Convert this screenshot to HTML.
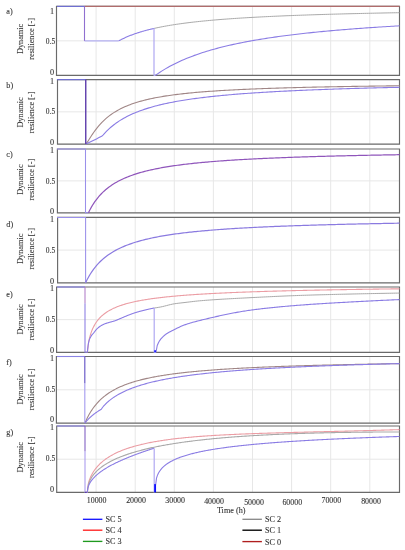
<!DOCTYPE html>
<html><head><meta charset="utf-8"><title>Dynamic resilience</title>
<style>
html,body{margin:0;padding:0;background:#fff;}
body{width:405px;height:550px;overflow:hidden;}
svg{display:block;}
text{font-family:"Liberation Serif","DejaVu Serif",serif;fill:#333;stroke:#333;stroke-width:0.1px;}
</style></head><body>
<svg width="405" height="550" viewBox="0 0 405 550">
<rect width="405" height="550" fill="#fff"/>
<line x1="96.10" y1="6.40" x2="96.10" y2="75.30" stroke="#e7e7e7" stroke-width="1"/>
<line x1="135.20" y1="6.40" x2="135.20" y2="75.30" stroke="#e7e7e7" stroke-width="1"/>
<line x1="174.29" y1="6.40" x2="174.29" y2="75.30" stroke="#e7e7e7" stroke-width="1"/>
<line x1="213.39" y1="6.40" x2="213.39" y2="75.30" stroke="#e7e7e7" stroke-width="1"/>
<line x1="252.49" y1="6.40" x2="252.49" y2="75.30" stroke="#e7e7e7" stroke-width="1"/>
<line x1="291.59" y1="6.40" x2="291.59" y2="75.30" stroke="#e7e7e7" stroke-width="1"/>
<line x1="330.69" y1="6.40" x2="330.69" y2="75.30" stroke="#e7e7e7" stroke-width="1"/>
<line x1="369.79" y1="6.40" x2="369.79" y2="75.30" stroke="#e7e7e7" stroke-width="1"/>
<line x1="56.50" y1="40.85" x2="399.50" y2="40.85" stroke="#e7e7e7" stroke-width="1"/>
<path d="M56.50 6.40 L399.50 6.40 L399.50 75.30 L56.50 75.30 Z" fill="none" stroke="#6a6a6a" stroke-width="1.15"/>
<path d="M84.50 6.40 L399.50 6.40" fill="none" stroke="#b06c6c" stroke-width="1.20" stroke-linejoin="round"/>
<path d="M154.00 28.44 L156.06 27.98 L158.13 27.55 L160.19 27.13 L162.25 26.72 L164.32 26.34 L166.38 25.96 L168.44 25.60 L170.50 25.26 L172.57 24.92 L174.63 24.60 L176.69 24.29 L178.76 23.99 L180.82 23.70 L182.88 23.41 L184.95 23.14 L187.01 22.88 L189.07 22.62 L191.13 22.37 L193.20 22.13 L195.26 21.90 L197.32 21.67 L199.39 21.45 L201.45 21.24 L203.51 21.03 L205.58 20.83 L207.64 20.63 L209.70 20.44 L211.76 20.25 L213.83 20.07 L215.89 19.90 L217.95 19.72 L220.02 19.56 L222.08 19.39 L224.14 19.23 L226.21 19.08 L228.27 18.93 L230.33 18.78 L232.39 18.63 L234.46 18.49 L236.52 18.35 L238.58 18.22 L240.65 18.09 L242.71 17.96 L244.77 17.83 L246.84 17.71 L248.90 17.58 L250.96 17.47 L253.03 17.35 L255.09 17.24 L257.15 17.13 L259.21 17.02 L261.28 16.91 L263.34 16.80 L265.40 16.70 L267.47 16.60 L269.53 16.50 L271.59 16.41 L273.66 16.31 L275.72 16.22 L277.78 16.13 L279.84 16.04 L281.91 15.95 L283.97 15.86 L286.03 15.78 L288.10 15.69 L290.16 15.61 L292.22 15.53 L294.29 15.45 L296.35 15.37 L298.41 15.30 L300.47 15.22 L302.54 15.15 L304.60 15.08 L306.66 15.01 L308.73 14.93 L310.79 14.87 L312.85 14.80 L314.92 14.73 L316.98 14.66 L319.04 14.60 L321.11 14.54 L323.17 14.47 L325.23 14.41 L327.29 14.35 L329.36 14.29 L331.42 14.23 L333.48 14.17 L335.55 14.12 L337.61 14.06 L339.67 14.00 L341.74 13.95 L343.80 13.89 L345.86 13.84 L347.92 13.79 L349.99 13.74 L352.05 13.68 L354.11 13.63 L356.18 13.58 L358.24 13.54 L360.30 13.49 L362.37 13.44 L364.43 13.39 L366.49 13.35 L368.55 13.30 L370.62 13.25 L372.68 13.21 L374.74 13.17 L376.81 13.12 L378.87 13.08 L380.93 13.04 L383.00 12.99 L385.06 12.95 L387.12 12.91 L389.18 12.87 L391.25 12.83 L393.31 12.79 L395.37 12.75 L397.44 12.72 L399.50 12.68" fill="none" stroke="#a9a9a9" stroke-width="1.00" stroke-linejoin="round"/>
<path d="M57.00 6.40 L84.50 6.40" fill="none" stroke="#6f6fd0" stroke-width="1.20" stroke-linejoin="round"/>
<path d="M84.50 40.85 L118.70 40.85" fill="none" stroke="#b4b0f2" stroke-width="1.20" stroke-linejoin="round"/>
<path d="M84.50 6.40 L84.50 40.85" fill="none" stroke="#9070d0" stroke-width="1.10" stroke-linejoin="round"/>
<path d="M118.70 40.85 L119.30 40.56 L119.90 40.24 L120.49 39.93 L121.09 39.62 L121.69 39.32 L122.29 39.02 L122.89 38.72 L123.49 38.44 L124.08 38.15 L124.68 37.88 L125.28 37.60 L125.88 37.34 L126.48 37.07 L127.08 36.81 L127.67 36.56 L128.27 36.31 L128.87 36.06 L129.47 35.82 L130.07 35.58 L130.67 35.35 L131.26 35.12 L131.86 34.89 L132.46 34.67 L133.06 34.45 L133.66 34.23 L134.26 34.02 L134.85 33.81 L135.45 33.60 L136.05 33.40 L136.65 33.19 L137.25 33.00 L137.85 32.80 L138.44 32.61 L139.04 32.42 L139.64 32.23 L140.24 32.05 L140.84 31.87 L141.44 31.69 L142.03 31.51 L142.63 31.34 L143.23 31.17 L143.83 31.00 L144.43 30.83 L145.03 30.67 L145.62 30.50 L146.22 30.34 L146.82 30.19 L147.42 30.03 L148.02 29.88 L148.62 29.72 L149.21 29.57 L149.81 29.43 L150.41 29.28 L151.01 29.14 L151.61 28.99 L152.21 28.85 L152.80 28.71 L153.40 28.58 L154.00 28.44" fill="none" stroke="#8a7ce4" stroke-width="1.10" stroke-linejoin="round"/>
<path d="M154.00 28.31 L154.00 75.30 L155.50 75.30" fill="none" stroke="#b0a8f2" stroke-width="1.20" stroke-linejoin="round"/>
<path d="M155.50 75.30 L157.55 73.86 L159.60 72.47 L161.65 71.14 L163.70 69.87 L165.75 68.64 L167.80 67.46 L169.85 66.32 L171.90 65.23 L173.95 64.17 L176.00 63.15 L178.05 62.17 L180.11 61.22 L182.16 60.30 L184.21 59.41 L186.26 58.55 L188.31 57.72 L190.36 56.92 L192.41 56.14 L194.46 55.38 L196.51 54.65 L198.56 53.93 L200.61 53.24 L202.66 52.57 L204.71 51.92 L206.76 51.28 L208.81 50.66 L210.86 50.06 L212.91 49.48 L214.96 48.91 L217.01 48.36 L219.06 47.82 L221.11 47.29 L223.16 46.78 L225.21 46.28 L227.26 45.79 L229.32 45.31 L231.37 44.85 L233.42 44.39 L235.47 43.95 L237.52 43.52 L239.57 43.10 L241.62 42.68 L243.67 42.28 L245.72 41.88 L247.77 41.50 L249.82 41.12 L251.87 40.75 L253.92 40.38 L255.97 40.03 L258.02 39.68 L260.07 39.34 L262.12 39.01 L264.17 38.68 L266.22 38.36 L268.27 38.04 L270.32 37.74 L272.37 37.43 L274.42 37.14 L276.47 36.85 L278.53 36.56 L280.58 36.28 L282.63 36.01 L284.68 35.74 L286.73 35.47 L288.78 35.21 L290.83 34.96 L292.88 34.71 L294.93 34.46 L296.98 34.22 L299.03 33.98 L301.08 33.74 L303.13 33.51 L305.18 33.29 L307.23 33.06 L309.28 32.85 L311.33 32.63 L313.38 32.42 L315.43 32.21 L317.48 32.00 L319.53 31.80 L321.58 31.60 L323.63 31.41 L325.68 31.21 L327.74 31.02 L329.79 30.84 L331.84 30.65 L333.89 30.47 L335.94 30.29 L337.99 30.12 L340.04 29.94 L342.09 29.77 L344.14 29.60 L346.19 29.44 L348.24 29.27 L350.29 29.11 L352.34 28.95 L354.39 28.80 L356.44 28.64 L358.49 28.49 L360.54 28.34 L362.59 28.19 L364.64 28.04 L366.69 27.90 L368.74 27.76 L370.79 27.62 L372.84 27.48 L374.89 27.34 L376.95 27.20 L379.00 27.07 L381.05 26.94 L383.10 26.81 L385.15 26.68 L387.20 26.55 L389.25 26.43 L391.30 26.30 L393.35 26.18 L395.40 26.06 L397.45 25.94 L399.50 25.82" fill="none" stroke="#8a7ce4" stroke-width="1.10" stroke-linejoin="round"/>
<text x="52.05" y="13.55" text-anchor="middle" font-size="8.2">1</text>
<text x="52.1" y="74.80" text-anchor="middle" font-size="8.2">0</text>
<text x="55.25" y="44.20" text-anchor="end" font-size="8.2" textLength="9.4" lengthAdjust="spacingAndGlyphs">0.5</text>
<text x="6.3" y="14.30" font-size="8.2">a)</text>
<text transform="translate(22.6 38.90) rotate(-90)" text-anchor="middle" font-size="8.6" textLength="30.4" lengthAdjust="spacingAndGlyphs">Dynamic</text>
<text transform="translate(34.1 38.90) rotate(-90)" text-anchor="middle" font-size="8.6" textLength="41.6" lengthAdjust="spacingAndGlyphs">resilience [-]</text>
<line x1="96.10" y1="79.60" x2="96.10" y2="144.10" stroke="#e7e7e7" stroke-width="1"/>
<line x1="135.20" y1="79.60" x2="135.20" y2="144.10" stroke="#e7e7e7" stroke-width="1"/>
<line x1="174.29" y1="79.60" x2="174.29" y2="144.10" stroke="#e7e7e7" stroke-width="1"/>
<line x1="213.39" y1="79.60" x2="213.39" y2="144.10" stroke="#e7e7e7" stroke-width="1"/>
<line x1="252.49" y1="79.60" x2="252.49" y2="144.10" stroke="#e7e7e7" stroke-width="1"/>
<line x1="291.59" y1="79.60" x2="291.59" y2="144.10" stroke="#e7e7e7" stroke-width="1"/>
<line x1="330.69" y1="79.60" x2="330.69" y2="144.10" stroke="#e7e7e7" stroke-width="1"/>
<line x1="369.79" y1="79.60" x2="369.79" y2="144.10" stroke="#e7e7e7" stroke-width="1"/>
<line x1="57.50" y1="111.85" x2="399.50" y2="111.85" stroke="#e7e7e7" stroke-width="1"/>
<path d="M57.50 79.60 L399.50 79.60 L399.50 144.10 L57.50 144.10 Z" fill="none" stroke="#6a6a6a" stroke-width="1.15"/>
<path d="M57.00 79.60 L85.75 79.60" fill="none" stroke="#6f6fd0" stroke-width="1.20" stroke-linejoin="round"/>
<path d="M85.90 144.10 L87.48 141.94 L89.05 139.46 L90.63 136.97 L92.20 134.57 L93.78 132.27 L95.36 130.10 L96.93 128.06 L98.51 126.14 L100.08 124.34 L101.66 122.65 L103.23 121.07 L104.81 119.59 L106.39 118.20 L107.96 116.89 L109.54 115.66 L111.11 114.50 L112.69 113.41 L114.27 112.38 L115.84 111.41 L117.42 110.49 L118.99 109.62 L120.57 108.80 L122.15 108.02 L123.72 107.28 L125.30 106.57 L126.87 105.90 L128.45 105.27 L130.02 104.66 L131.60 104.08 L133.18 103.53 L134.75 103.00 L136.33 102.49 L137.90 102.01 L139.48 101.55 L141.06 101.10 L142.63 100.68 L144.21 100.27 L145.78 99.88 L147.36 99.50 L148.94 99.14 L150.51 98.79 L152.09 98.45 L153.66 98.13 L155.24 97.82 L156.81 97.52 L158.39 97.23 L159.97 96.95 L161.54 96.67 L163.12 96.41 L164.69 96.16 L166.27 95.91 L167.85 95.68 L169.42 95.45 L171.00 95.22 L172.57 95.01 L174.15 94.80 L175.73 94.60 L177.30 94.40 L178.88 94.21 L180.45 94.02 L182.03 93.84 L183.60 93.67 L185.18 93.50 L186.76 93.33 L188.33 93.17 L189.91 93.01 L191.48 92.86 L193.06 92.71 L194.64 92.56 L196.21 92.42 L197.79 92.28 L199.36 92.15 L200.94 92.02 L202.52 91.89 L204.09 91.77 L205.67 91.64 L207.24 91.53 L208.82 91.41 L210.39 91.30 L211.97 91.18 L213.55 91.08 L215.12 90.97 L216.70 90.87 L218.27 90.77 L219.85 90.67 L221.43 90.57 L223.00 90.47 L224.58 90.38 L226.15 90.29 L227.73 90.20 L229.31 90.11 L230.88 90.03 L232.46 89.95 L234.03 89.86 L235.61 89.78 L237.18 89.70 L238.76 89.63 L240.34 89.55 L241.91 89.48 L243.49 89.40 L245.06 89.33 L246.64 89.26 L248.22 89.19 L249.79 89.13 L251.37 89.06 L252.94 89.00 L254.52 88.93 L256.09 88.87 L257.67 88.81 L259.25 88.75 L260.82 88.69 L262.40 88.63 L263.97 88.57 L265.55 88.51 L267.13 88.46 L268.70 88.40 L270.28 88.35 L271.85 88.30 L273.43 88.24 L275.01 88.19 L276.58 88.14 L278.16 88.09 L279.73 88.04 L281.31 88.00 L282.88 87.95 L284.46 87.90 L286.04 87.86 L287.61 87.81 L289.19 87.77 L290.76 87.72 L292.34 87.68 L293.92 87.64 L295.49 87.60 L297.07 87.55 L298.64 87.51 L300.22 87.47 L301.80 87.43 L303.37 87.40 L304.95 87.36 L306.52 87.32 L308.10 87.28 L309.67 87.25 L311.25 87.21 L312.83 87.17 L314.40 87.14 L315.98 87.10 L317.55 87.07 L319.13 87.04 L320.71 87.00 L322.28 86.97 L323.86 86.94 L325.43 86.91 L327.01 86.87 L328.59 86.84 L330.16 86.81 L331.74 86.78 L333.31 86.75 L334.89 86.72 L336.46 86.69 L338.04 86.66 L339.62 86.63 L341.19 86.61 L342.77 86.58 L344.34 86.55 L345.92 86.52 L347.50 86.50 L349.07 86.47 L350.65 86.44 L352.22 86.42 L353.80 86.39 L355.38 86.37 L356.95 86.34 L358.53 86.32 L360.10 86.29 L361.68 86.27 L363.25 86.25 L364.83 86.22 L366.41 86.20 L367.98 86.18 L369.56 86.15 L371.13 86.13 L372.71 86.11 L374.29 86.09 L375.86 86.06 L377.44 86.04 L379.01 86.02 L380.59 86.00 L382.17 85.98 L383.74 85.96 L385.32 85.94 L386.89 85.92 L388.47 85.90 L390.04 85.88 L391.62 85.86 L393.20 85.84 L394.77 85.82 L396.35 85.80 L397.92 85.78 L399.50 85.76" fill="none" stroke="#a08686" stroke-width="1.10" stroke-linejoin="round"/>
<path d="M85.90 144.10 L87.48 143.32 L89.05 142.54 L90.63 141.76 L92.20 140.98 L93.78 140.20 L95.36 139.42 L96.93 138.64 L98.51 137.86 L100.08 137.08 L101.66 136.31 L103.23 134.82 L104.81 133.06 L106.39 131.41 L107.96 129.86 L109.54 128.40 L111.11 127.03 L112.69 125.72 L114.27 124.49 L115.84 123.32 L117.42 122.22 L118.99 121.16 L120.57 120.16 L122.15 119.20 L123.72 118.29 L125.30 117.42 L126.87 116.59 L128.45 115.79 L130.02 115.03 L131.60 114.30 L133.18 113.59 L134.75 112.92 L136.33 112.27 L137.90 111.65 L139.48 111.05 L141.06 110.47 L142.63 109.91 L144.21 109.38 L145.78 108.86 L147.36 108.36 L148.94 107.87 L150.51 107.41 L152.09 106.95 L153.66 106.52 L155.24 106.09 L156.81 105.68 L158.39 105.28 L159.97 104.89 L161.54 104.52 L163.12 104.16 L164.69 103.80 L166.27 103.46 L167.85 103.12 L169.42 102.80 L171.00 102.48 L172.57 102.18 L174.15 101.88 L175.73 101.58 L177.30 101.30 L178.88 101.02 L180.45 100.75 L182.03 100.49 L183.60 100.23 L185.18 99.98 L186.76 99.74 L188.33 99.50 L189.91 99.27 L191.48 99.04 L193.06 98.82 L194.64 98.60 L196.21 98.39 L197.79 98.18 L199.36 97.98 L200.94 97.78 L202.52 97.58 L204.09 97.39 L205.67 97.21 L207.24 97.03 L208.82 96.85 L210.39 96.67 L211.97 96.50 L213.55 96.33 L215.12 96.17 L216.70 96.00 L218.27 95.85 L219.85 95.69 L221.43 95.54 L223.00 95.39 L224.58 95.24 L226.15 95.10 L227.73 94.96 L229.31 94.82 L230.88 94.68 L232.46 94.55 L234.03 94.41 L235.61 94.28 L237.18 94.16 L238.76 94.03 L240.34 93.91 L241.91 93.79 L243.49 93.67 L245.06 93.55 L246.64 93.44 L248.22 93.32 L249.79 93.21 L251.37 93.10 L252.94 93.00 L254.52 92.89 L256.09 92.79 L257.67 92.68 L259.25 92.58 L260.82 92.48 L262.40 92.38 L263.97 92.29 L265.55 92.19 L267.13 92.10 L268.70 92.01 L270.28 91.92 L271.85 91.83 L273.43 91.74 L275.01 91.65 L276.58 91.57 L278.16 91.48 L279.73 91.40 L281.31 91.32 L282.88 91.23 L284.46 91.15 L286.04 91.08 L287.61 91.00 L289.19 90.92 L290.76 90.84 L292.34 90.77 L293.92 90.70 L295.49 90.62 L297.07 90.55 L298.64 90.48 L300.22 90.41 L301.80 90.34 L303.37 90.27 L304.95 90.21 L306.52 90.14 L308.10 90.07 L309.67 90.01 L311.25 89.94 L312.83 89.88 L314.40 89.82 L315.98 89.76 L317.55 89.70 L319.13 89.64 L320.71 89.58 L322.28 89.52 L323.86 89.46 L325.43 89.40 L327.01 89.34 L328.59 89.29 L330.16 89.23 L331.74 89.18 L333.31 89.12 L334.89 89.07 L336.46 89.02 L338.04 88.96 L339.62 88.91 L341.19 88.86 L342.77 88.81 L344.34 88.76 L345.92 88.71 L347.50 88.66 L349.07 88.61 L350.65 88.56 L352.22 88.52 L353.80 88.47 L355.38 88.42 L356.95 88.38 L358.53 88.33 L360.10 88.29 L361.68 88.24 L363.25 88.20 L364.83 88.15 L366.41 88.11 L367.98 88.07 L369.56 88.03 L371.13 87.98 L372.71 87.94 L374.29 87.90 L375.86 87.86 L377.44 87.82 L379.01 87.78 L380.59 87.74 L382.17 87.70 L383.74 87.66 L385.32 87.62 L386.89 87.59 L388.47 87.55 L390.04 87.51 L391.62 87.47 L393.20 87.44 L394.77 87.40 L396.35 87.36 L397.92 87.33 L399.50 87.29" fill="none" stroke="#8a7ce4" stroke-width="1.10" stroke-linejoin="round"/>
<path d="M85.75 79.60 L85.75 144.10" fill="none" stroke="#5e3cac" stroke-width="1.40" stroke-linejoin="round"/>
<text x="52.05" y="83.70" text-anchor="middle" font-size="8.2">1</text>
<text x="52.1" y="145.10" text-anchor="middle" font-size="8.2">0</text>
<text x="55.25" y="114.20" text-anchor="end" font-size="8.2" textLength="9.4" lengthAdjust="spacingAndGlyphs">0.5</text>
<text x="6.3" y="88.30" font-size="8.2">b)</text>
<text transform="translate(22.6 112.40) rotate(-90)" text-anchor="middle" font-size="8.6" textLength="30.4" lengthAdjust="spacingAndGlyphs">Dynamic</text>
<text transform="translate(34.1 112.40) rotate(-90)" text-anchor="middle" font-size="8.6" textLength="41.6" lengthAdjust="spacingAndGlyphs">resilience [-]</text>
<line x1="96.10" y1="149.00" x2="96.10" y2="212.80" stroke="#e7e7e7" stroke-width="1"/>
<line x1="135.20" y1="149.00" x2="135.20" y2="212.80" stroke="#e7e7e7" stroke-width="1"/>
<line x1="174.29" y1="149.00" x2="174.29" y2="212.80" stroke="#e7e7e7" stroke-width="1"/>
<line x1="213.39" y1="149.00" x2="213.39" y2="212.80" stroke="#e7e7e7" stroke-width="1"/>
<line x1="252.49" y1="149.00" x2="252.49" y2="212.80" stroke="#e7e7e7" stroke-width="1"/>
<line x1="291.59" y1="149.00" x2="291.59" y2="212.80" stroke="#e7e7e7" stroke-width="1"/>
<line x1="330.69" y1="149.00" x2="330.69" y2="212.80" stroke="#e7e7e7" stroke-width="1"/>
<line x1="369.79" y1="149.00" x2="369.79" y2="212.80" stroke="#e7e7e7" stroke-width="1"/>
<line x1="57.40" y1="180.90" x2="399.50" y2="180.90" stroke="#e7e7e7" stroke-width="1"/>
<path d="M57.40 149.00 L399.50 149.00 L399.50 212.80 L57.40 212.80 Z" fill="none" stroke="#6a6a6a" stroke-width="1.15"/>
<path d="M57.00 149.00 L85.50 149.00 L85.50 212.80 L88.40 212.80" fill="none" stroke="#9a90ea" stroke-width="1.05" stroke-linejoin="round"/>
<path d="M88.40 212.80 L89.96 209.69 L91.53 206.87 L93.09 204.30 L94.65 201.94 L96.22 199.78 L97.78 197.79 L99.34 195.95 L100.91 194.25 L102.47 192.66 L104.03 191.18 L105.60 189.80 L107.16 188.50 L108.72 187.29 L110.29 186.14 L111.85 185.07 L113.41 184.05 L114.98 183.09 L116.54 182.18 L118.10 181.32 L119.67 180.50 L121.23 179.72 L122.79 178.98 L124.36 178.28 L125.92 177.61 L127.48 176.96 L129.05 176.35 L130.61 175.76 L132.17 175.20 L133.74 174.66 L135.30 174.14 L136.86 173.64 L138.43 173.16 L139.99 172.70 L141.55 172.26 L143.12 171.83 L144.68 171.42 L146.24 171.03 L147.81 170.64 L149.37 170.27 L150.93 169.91 L152.50 169.57 L154.06 169.23 L155.62 168.91 L157.19 168.60 L158.75 168.29 L160.31 168.00 L161.88 167.71 L163.44 167.44 L165.00 167.17 L166.57 166.91 L168.13 166.65 L169.69 166.40 L171.26 166.16 L172.82 165.93 L174.38 165.70 L175.95 165.48 L177.51 165.27 L179.07 165.06 L180.64 164.85 L182.20 164.65 L183.76 164.46 L185.33 164.27 L186.89 164.08 L188.45 163.90 L190.02 163.73 L191.58 163.56 L193.14 163.39 L194.71 163.22 L196.27 163.06 L197.83 162.90 L199.40 162.75 L200.96 162.60 L202.52 162.45 L204.09 162.31 L205.65 162.17 L207.21 162.03 L208.78 161.90 L210.34 161.76 L211.90 161.63 L213.47 161.51 L215.03 161.38 L216.59 161.26 L218.16 161.14 L219.72 161.02 L221.28 160.91 L222.85 160.80 L224.41 160.69 L225.97 160.58 L227.54 160.47 L229.10 160.37 L230.66 160.26 L232.23 160.16 L233.79 160.06 L235.35 159.96 L236.92 159.87 L238.48 159.77 L240.04 159.68 L241.61 159.59 L243.17 159.50 L244.73 159.41 L246.29 159.33 L247.86 159.24 L249.42 159.16 L250.98 159.08 L252.55 159.00 L254.11 158.92 L255.67 158.84 L257.24 158.76 L258.80 158.68 L260.36 158.61 L261.93 158.54 L263.49 158.46 L265.05 158.39 L266.62 158.32 L268.18 158.25 L269.74 158.18 L271.31 158.12 L272.87 158.05 L274.43 157.99 L276.00 157.92 L277.56 157.86 L279.12 157.80 L280.69 157.73 L282.25 157.67 L283.81 157.61 L285.38 157.55 L286.94 157.50 L288.50 157.44 L290.07 157.38 L291.63 157.32 L293.19 157.27 L294.76 157.21 L296.32 157.16 L297.88 157.11 L299.45 157.06 L301.01 157.00 L302.57 156.95 L304.14 156.90 L305.70 156.85 L307.26 156.80 L308.83 156.75 L310.39 156.71 L311.95 156.66 L313.52 156.61 L315.08 156.57 L316.64 156.52 L318.21 156.47 L319.77 156.43 L321.33 156.39 L322.90 156.34 L324.46 156.30 L326.02 156.26 L327.59 156.21 L329.15 156.17 L330.71 156.13 L332.28 156.09 L333.84 156.05 L335.40 156.01 L336.97 155.97 L338.53 155.93 L340.09 155.89 L341.66 155.86 L343.22 155.82 L344.78 155.78 L346.35 155.75 L347.91 155.71 L349.47 155.67 L351.04 155.64 L352.60 155.60 L354.16 155.57 L355.73 155.53 L357.29 155.50 L358.85 155.47 L360.42 155.43 L361.98 155.40 L363.54 155.37 L365.11 155.33 L366.67 155.30 L368.23 155.27 L369.80 155.24 L371.36 155.21 L372.92 155.18 L374.49 155.15 L376.05 155.12 L377.61 155.09 L379.18 155.06 L380.74 155.03 L382.30 155.00 L383.87 154.97 L385.43 154.94 L386.99 154.91 L388.56 154.88 L390.12 154.86 L391.68 154.83 L393.25 154.80 L394.81 154.78 L396.37 154.75 L397.94 154.72 L399.50 154.70" fill="none" stroke="#8f55bb" stroke-width="1.20" stroke-linejoin="round"/>
<text x="52.05" y="152.70" text-anchor="middle" font-size="8.2">1</text>
<text x="52.1" y="214.20" text-anchor="middle" font-size="8.2">0</text>
<text x="55.25" y="183.50" text-anchor="end" font-size="8.2" textLength="9.4" lengthAdjust="spacingAndGlyphs">0.5</text>
<text x="6.3" y="157.10" font-size="8.2">c)</text>
<text transform="translate(22.6 179.60) rotate(-90)" text-anchor="middle" font-size="8.6" textLength="30.4" lengthAdjust="spacingAndGlyphs">Dynamic</text>
<text transform="translate(34.1 179.60) rotate(-90)" text-anchor="middle" font-size="8.6" textLength="41.6" lengthAdjust="spacingAndGlyphs">resilience [-]</text>
<line x1="96.10" y1="217.40" x2="96.10" y2="282.80" stroke="#e7e7e7" stroke-width="1"/>
<line x1="135.20" y1="217.40" x2="135.20" y2="282.80" stroke="#e7e7e7" stroke-width="1"/>
<line x1="174.29" y1="217.40" x2="174.29" y2="282.80" stroke="#e7e7e7" stroke-width="1"/>
<line x1="213.39" y1="217.40" x2="213.39" y2="282.80" stroke="#e7e7e7" stroke-width="1"/>
<line x1="252.49" y1="217.40" x2="252.49" y2="282.80" stroke="#e7e7e7" stroke-width="1"/>
<line x1="291.59" y1="217.40" x2="291.59" y2="282.80" stroke="#e7e7e7" stroke-width="1"/>
<line x1="330.69" y1="217.40" x2="330.69" y2="282.80" stroke="#e7e7e7" stroke-width="1"/>
<line x1="369.79" y1="217.40" x2="369.79" y2="282.80" stroke="#e7e7e7" stroke-width="1"/>
<line x1="57.60" y1="250.10" x2="399.50" y2="250.10" stroke="#e7e7e7" stroke-width="1"/>
<path d="M57.60 217.40 L399.50 217.40 L399.50 282.80 L57.60 282.80 Z" fill="none" stroke="#6a6a6a" stroke-width="1.15"/>
<path d="M57.00 217.40 L85.60 217.40 L85.60 282.80" fill="none" stroke="#9a90ea" stroke-width="1.05" stroke-linejoin="round"/>
<path d="M85.60 282.80 L87.18 279.58 L88.75 276.67 L90.33 274.02 L91.91 271.59 L93.49 269.36 L95.06 267.31 L96.64 265.42 L98.22 263.66 L99.80 262.03 L101.37 260.50 L102.95 259.08 L104.53 257.75 L106.11 256.51 L107.68 255.33 L109.26 254.23 L110.84 253.19 L112.42 252.20 L113.99 251.27 L115.57 250.38 L117.15 249.55 L118.73 248.75 L120.30 247.99 L121.88 247.27 L123.46 246.58 L125.03 245.92 L126.61 245.29 L128.19 244.69 L129.77 244.11 L131.34 243.56 L132.92 243.03 L134.50 242.52 L136.08 242.03 L137.65 241.56 L139.23 241.11 L140.81 240.67 L142.39 240.25 L143.96 239.85 L145.54 239.45 L147.12 239.08 L148.70 238.71 L150.27 238.36 L151.85 238.02 L153.43 237.68 L155.01 237.36 L156.58 237.05 L158.16 236.75 L159.74 236.46 L161.31 236.18 L162.89 235.90 L164.47 235.64 L166.05 235.38 L167.62 235.13 L169.20 234.88 L170.78 234.64 L172.36 234.41 L173.93 234.18 L175.51 233.96 L177.09 233.75 L178.67 233.54 L180.24 233.34 L181.82 233.14 L183.40 232.95 L184.98 232.76 L186.55 232.57 L188.13 232.39 L189.71 232.22 L191.28 232.05 L192.86 231.88 L194.44 231.71 L196.02 231.55 L197.59 231.40 L199.17 231.24 L200.75 231.09 L202.33 230.95 L203.90 230.80 L205.48 230.66 L207.06 230.53 L208.64 230.39 L210.21 230.26 L211.79 230.13 L213.37 230.00 L214.95 229.88 L216.52 229.76 L218.10 229.64 L219.68 229.52 L221.26 229.40 L222.83 229.29 L224.41 229.18 L225.99 229.07 L227.56 228.96 L229.14 228.86 L230.72 228.76 L232.30 228.66 L233.87 228.56 L235.45 228.46 L237.03 228.36 L238.61 228.27 L240.18 228.18 L241.76 228.09 L243.34 228.00 L244.92 227.91 L246.49 227.82 L248.07 227.74 L249.65 227.65 L251.23 227.57 L252.80 227.49 L254.38 227.41 L255.96 227.33 L257.54 227.25 L259.11 227.18 L260.69 227.10 L262.27 227.03 L263.84 226.95 L265.42 226.88 L267.00 226.81 L268.58 226.74 L270.15 226.67 L271.73 226.61 L273.31 226.54 L274.89 226.47 L276.46 226.41 L278.04 226.35 L279.62 226.28 L281.20 226.22 L282.77 226.16 L284.35 226.10 L285.93 226.04 L287.51 225.98 L289.08 225.92 L290.66 225.87 L292.24 225.81 L293.82 225.76 L295.39 225.70 L296.97 225.65 L298.55 225.59 L300.12 225.54 L301.70 225.49 L303.28 225.44 L304.86 225.39 L306.43 225.34 L308.01 225.29 L309.59 225.24 L311.17 225.19 L312.74 225.14 L314.32 225.09 L315.90 225.05 L317.48 225.00 L319.05 224.96 L320.63 224.91 L322.21 224.87 L323.79 224.82 L325.36 224.78 L326.94 224.74 L328.52 224.69 L330.09 224.65 L331.67 224.61 L333.25 224.57 L334.83 224.53 L336.40 224.49 L337.98 224.45 L339.56 224.41 L341.14 224.37 L342.71 224.33 L344.29 224.30 L345.87 224.26 L347.45 224.22 L349.02 224.19 L350.60 224.15 L352.18 224.11 L353.76 224.08 L355.33 224.04 L356.91 224.01 L358.49 223.97 L360.07 223.94 L361.64 223.91 L363.22 223.87 L364.80 223.84 L366.37 223.81 L367.95 223.78 L369.53 223.74 L371.11 223.71 L372.68 223.68 L374.26 223.65 L375.84 223.62 L377.42 223.59 L378.99 223.56 L380.57 223.53 L382.15 223.50 L383.73 223.47 L385.30 223.44 L386.88 223.41 L388.46 223.38 L390.04 223.35 L391.61 223.33 L393.19 223.30 L394.77 223.27 L396.35 223.24 L397.92 223.22 L399.50 223.19" fill="none" stroke="#8a7ae0" stroke-width="1.20" stroke-linejoin="round"/>
<text x="52.05" y="222.20" text-anchor="middle" font-size="8.2">1</text>
<text x="52.1" y="283.70" text-anchor="middle" font-size="8.2">0</text>
<text x="55.25" y="252.60" text-anchor="end" font-size="8.2" textLength="9.4" lengthAdjust="spacingAndGlyphs">0.5</text>
<text x="6.3" y="227.40" font-size="8.2">d)</text>
<text transform="translate(22.6 248.80) rotate(-90)" text-anchor="middle" font-size="8.6" textLength="30.4" lengthAdjust="spacingAndGlyphs">Dynamic</text>
<text transform="translate(34.1 248.80) rotate(-90)" text-anchor="middle" font-size="8.6" textLength="41.6" lengthAdjust="spacingAndGlyphs">resilience [-]</text>
<line x1="96.10" y1="287.00" x2="96.10" y2="352.30" stroke="#e7e7e7" stroke-width="1"/>
<line x1="135.20" y1="287.00" x2="135.20" y2="352.30" stroke="#e7e7e7" stroke-width="1"/>
<line x1="174.29" y1="287.00" x2="174.29" y2="352.30" stroke="#e7e7e7" stroke-width="1"/>
<line x1="213.39" y1="287.00" x2="213.39" y2="352.30" stroke="#e7e7e7" stroke-width="1"/>
<line x1="252.49" y1="287.00" x2="252.49" y2="352.30" stroke="#e7e7e7" stroke-width="1"/>
<line x1="291.59" y1="287.00" x2="291.59" y2="352.30" stroke="#e7e7e7" stroke-width="1"/>
<line x1="330.69" y1="287.00" x2="330.69" y2="352.30" stroke="#e7e7e7" stroke-width="1"/>
<line x1="369.79" y1="287.00" x2="369.79" y2="352.30" stroke="#e7e7e7" stroke-width="1"/>
<line x1="56.60" y1="319.65" x2="399.50" y2="319.65" stroke="#e7e7e7" stroke-width="1"/>
<path d="M56.60 287.00 L399.50 287.00 L399.50 352.30 L56.60 352.30 Z" fill="none" stroke="#6a6a6a" stroke-width="1.15"/>
<path d="M57.00 287.00 L85.00 287.00" fill="none" stroke="#8580e6" stroke-width="1.10" stroke-linejoin="round"/>
<path d="M85.00 303.32 L85.00 352.30 L87.40 352.30" fill="none" stroke="#8a7ce2" stroke-width="1.05" stroke-linejoin="round"/>
<path d="M85.00 287.00 L85.00 303.32" fill="none" stroke="#b07cc8" stroke-width="1.05" stroke-linejoin="round"/>
<path d="M87.40 352.30 L88.44 343.19 L89.49 338.18 L90.53 334.40 L91.58 331.36 L92.62 328.81 L93.66 326.62 L94.71 324.71 L95.75 323.01 L96.79 321.49 L97.84 320.12 L98.88 318.88 L99.93 317.74 L100.97 316.69 L102.01 315.72 L103.06 314.82 L104.10 313.99 L105.14 313.21 L106.19 312.47 L107.23 311.78 L108.28 311.13 L109.32 310.52 L110.36 309.94 L111.41 309.39 L112.45 308.87 L113.50 308.37 L114.54 307.90 L115.58 307.45 L116.63 307.02 L117.67 306.60 L118.71 306.21 L119.76 305.83 L120.80 305.46 L121.85 305.11 L122.89 304.78 L123.93 304.45 L124.98 304.14 L126.02 303.84 L127.06 303.55 L128.11 303.27 L129.15 303.00 L130.20 302.73 L131.24 302.48 L132.28 302.23 L133.33 301.99 L134.37 301.76 L135.42 301.54 L136.46 301.32 L137.50 301.11 L138.55 300.90 L139.59 300.70 L140.63 300.51 L141.68 300.32 L142.72 300.13 L143.77 299.95 L144.81 299.78 L145.85 299.61 L146.90 299.44 L147.94 299.28 L148.98 299.12 L150.03 298.96 L151.07 298.81 L152.12 298.66 L153.16 298.52 L154.20 298.38 L155.25 298.24 L156.29 298.11 L157.34 297.97 L158.38 297.84 L159.42 297.72 L160.47 297.59 L161.51 297.47 L162.55 297.35 L163.60 297.24 L164.64 297.12 L165.69 297.01 L166.73 296.90 L167.77 296.79 L168.82 296.68 L169.86 296.58 L170.91 296.48 L171.95 296.38 L172.99 296.28 L174.04 296.18 L175.08 296.09 L176.12 296.00 L177.17 295.90 L178.21 295.81 L179.26 295.73 L180.30 295.64 L181.34 295.55 L182.39 295.47 L183.43 295.39 L184.47 295.30 L185.52 295.22 L186.56 295.14 L187.61 295.07 L188.65 294.99 L189.69 294.91 L190.74 294.84 L191.78 294.77 L192.83 294.70 L193.87 294.62 L194.91 294.55 L195.96 294.49 L197.00 294.42 L198.04 294.35 L199.09 294.29 L200.13 294.22 L201.18 294.16 L202.22 294.09 L203.26 294.03 L204.31 293.97 L205.35 293.91 L206.39 293.85 L207.44 293.79 L208.48 293.73 L209.53 293.67 L210.57 293.62 L211.61 293.56 L212.66 293.51 L213.70 293.45 L214.75 293.40 L215.79 293.34 L216.83 293.29 L217.88 293.24 L218.92 293.19 L219.96 293.14 L221.01 293.09 L222.05 293.04 L223.10 292.99 L224.14 292.94 L225.18 292.89 L226.23 292.85 L227.27 292.80 L228.31 292.75 L229.36 292.71 L230.40 292.66 L231.45 292.62 L232.49 292.57 L233.53 292.53 L234.58 292.49 L235.62 292.44 L236.67 292.40 L237.71 292.36 L238.75 292.32 L239.80 292.28 L240.84 292.24 L241.88 292.20 L242.93 292.16 L243.97 292.12 L245.02 292.08 L246.06 292.04 L247.10 292.01 L248.15 291.97 L249.19 291.93 L250.23 291.89 L251.28 291.86 L252.32 291.82 L253.37 291.79 L254.41 291.75 L255.45 291.72 L256.50 291.68 L257.54 291.65 L258.59 291.61 L259.63 291.58 L260.67 291.55 L261.72 291.51 L262.76 291.48 L263.80 291.45 L264.85 291.42 L265.89 291.38 L266.94 291.35 L267.98 291.32 L269.02 291.29 L270.07 291.26 L271.11 291.23 L272.15 291.20 L273.20 291.17 L274.24 291.14 L275.29 291.11 L276.33 291.08 L277.37 291.05 L278.42 291.02 L279.46 291.00 L280.51 290.97 L281.55 290.94 L282.59 290.91 L283.64 290.88 L284.68 290.86 L285.72 290.83 L286.77 290.80 L287.81 290.78 L288.86 290.75 L289.90 290.73 L290.94 290.70 L291.99 290.67 L293.03 290.65 L294.07 290.62 L295.12 290.60 L296.16 290.57 L297.21 290.55 L298.25 290.53 L299.29 290.50 L300.34 290.48 L301.38 290.45 L302.43 290.43 L303.47 290.41 L304.51 290.38 L305.56 290.36 L306.60 290.34 L307.64 290.31 L308.69 290.29 L309.73 290.27 L310.78 290.25 L311.82 290.23 L312.86 290.20 L313.91 290.18 L314.95 290.16 L315.99 290.14 L317.04 290.12 L318.08 290.10 L319.13 290.08 L320.17 290.05 L321.21 290.03 L322.26 290.01 L323.30 289.99 L324.35 289.97 L325.39 289.95 L326.43 289.93 L327.48 289.91 L328.52 289.89 L329.56 289.87 L330.61 289.85 L331.65 289.84 L332.70 289.82 L333.74 289.80 L334.78 289.78 L335.83 289.76 L336.87 289.74 L337.92 289.72 L338.96 289.70 L340.00 289.69 L341.05 289.67 L342.09 289.65 L343.13 289.63 L344.18 289.61 L345.22 289.60 L346.27 289.58 L347.31 289.56 L348.35 289.54 L349.40 289.53 L350.44 289.51 L351.48 289.49 L352.53 289.48 L353.57 289.46 L354.62 289.44 L355.66 289.43 L356.70 289.41 L357.75 289.39 L358.79 289.38 L359.84 289.36 L360.88 289.35 L361.92 289.33 L362.97 289.31 L364.01 289.30 L365.05 289.28 L366.10 289.27 L367.14 289.25 L368.19 289.24 L369.23 289.22 L370.27 289.21 L371.32 289.19 L372.36 289.18 L373.40 289.16 L374.45 289.15 L375.49 289.13 L376.54 289.12 L377.58 289.10 L378.62 289.09 L379.67 289.07 L380.71 289.06 L381.76 289.05 L382.80 289.03 L383.84 289.02 L384.89 289.00 L385.93 288.99 L386.97 288.98 L388.02 288.96 L389.06 288.95 L390.11 288.94 L391.15 288.92 L392.19 288.91 L393.24 288.89 L394.28 288.88 L395.32 288.87 L396.37 288.86 L397.41 288.84 L398.46 288.83 L399.50 288.82" fill="none" stroke="#eb9da4" stroke-width="1.10" stroke-linejoin="round"/>
<path d="M154.10 308.03 L156.16 307.74 L158.22 307.42 L160.29 307.06 L162.35 306.63 L164.41 306.13 L166.47 305.60 L168.54 305.06 L170.60 304.55 L172.66 304.10 L174.72 303.73 L176.78 303.44 L178.85 303.18 L180.91 302.94 L182.97 302.71 L185.03 302.47 L187.09 302.22 L189.16 301.97 L191.22 301.72 L193.28 301.47 L195.34 301.24 L197.41 301.02 L199.47 300.82 L201.53 300.65 L203.59 300.49 L205.65 300.32 L207.72 300.17 L209.78 300.02 L211.84 299.87 L213.90 299.73 L215.97 299.59 L218.03 299.46 L220.09 299.33 L222.15 299.20 L224.21 299.08 L226.28 298.96 L228.34 298.84 L230.40 298.73 L232.46 298.61 L234.53 298.50 L236.59 298.39 L238.65 298.28 L240.71 298.18 L242.77 298.07 L244.84 297.96 L246.90 297.86 L248.96 297.75 L251.02 297.64 L253.08 297.54 L255.15 297.43 L257.21 297.33 L259.27 297.22 L261.33 297.12 L263.40 297.01 L265.46 296.91 L267.52 296.81 L269.58 296.71 L271.64 296.61 L273.71 296.51 L275.77 296.41 L277.83 296.32 L279.89 296.23 L281.96 296.13 L284.02 296.04 L286.08 295.96 L288.14 295.87 L290.20 295.79 L292.27 295.71 L294.33 295.63 L296.39 295.55 L298.45 295.48 L300.52 295.41 L302.58 295.34 L304.64 295.27 L306.70 295.20 L308.76 295.14 L310.83 295.07 L312.89 295.01 L314.95 294.95 L317.01 294.89 L319.07 294.83 L321.14 294.77 L323.20 294.72 L325.26 294.66 L327.32 294.61 L329.39 294.55 L331.45 294.50 L333.51 294.45 L335.57 294.40 L337.63 294.34 L339.70 294.29 L341.76 294.25 L343.82 294.20 L345.88 294.15 L347.95 294.10 L350.01 294.05 L352.07 294.01 L354.13 293.96 L356.19 293.91 L358.26 293.87 L360.32 293.82 L362.38 293.78 L364.44 293.73 L366.51 293.69 L368.57 293.65 L370.63 293.60 L372.69 293.56 L374.75 293.52 L376.82 293.48 L378.88 293.44 L380.94 293.40 L383.00 293.36 L385.06 293.32 L387.13 293.28 L389.19 293.25 L391.25 293.21 L393.31 293.18 L395.38 293.14 L397.44 293.11 L399.50 293.07" fill="none" stroke="#a9a9a9" stroke-width="1.00" stroke-linejoin="round"/>
<path d="M87.40 352.30 L87.74 348.57 L88.07 345.75 L88.41 343.53 L88.74 341.87 L89.08 340.54 L89.41 339.48 L89.75 338.66 L90.08 338.00 L90.42 337.38 L90.75 336.76 L91.09 336.16 L91.42 335.60 L91.76 335.11 L92.09 334.69 L92.43 334.32 L92.76 333.96 L93.10 333.59 L93.43 333.20 L93.77 332.79 L94.10 332.36 L94.44 331.92 L94.77 331.48 L95.11 331.04 L95.44 330.60 L95.78 330.18 L96.11 329.77 L96.45 329.39 L96.78 329.04 L97.12 328.71 L97.46 328.40 L97.79 328.10 L98.13 327.81 L98.46 327.53 L98.80 327.26 L99.13 327.00 L99.47 326.75 L99.80 326.52 L100.14 326.29 L100.47 326.07 L100.81 325.86 L101.14 325.65 L101.48 325.45 L101.81 325.26 L102.15 325.08 L102.48 324.90 L102.82 324.72 L103.15 324.56 L103.49 324.40 L103.82 324.25 L104.16 324.11 L104.49 323.97 L104.83 323.84 L105.16 323.71 L105.50 323.59 L105.83 323.48 L106.17 323.36 L106.51 323.25 L106.84 323.14 L107.18 323.04 L107.51 322.94 L107.85 322.83 L108.18 322.73 L108.52 322.63 L108.85 322.53 L109.19 322.43 L109.52 322.33 L109.86 322.23 L110.19 322.13 L110.53 322.04 L110.86 321.95 L111.20 321.86 L111.53 321.77 L111.87 321.68 L112.20 321.59 L112.54 321.50 L112.87 321.41 L113.21 321.31 L113.54 321.22 L113.88 321.12 L114.21 321.02 L114.55 320.91 L114.88 320.80 L115.22 320.68 L115.55 320.55 L115.89 320.43 L116.23 320.29 L116.56 320.15 L116.90 320.01 L117.23 319.87 L117.57 319.73 L117.90 319.58 L118.24 319.43 L118.57 319.29 L118.91 319.14 L119.24 319.00 L119.58 318.85 L119.91 318.71 L120.25 318.57 L120.58 318.43 L120.92 318.28 L121.25 318.14 L121.59 318.00 L121.92 317.85 L122.26 317.71 L122.59 317.56 L122.93 317.42 L123.26 317.28 L123.60 317.13 L123.93 316.99 L124.27 316.85 L124.60 316.71 L124.94 316.57 L125.27 316.43 L125.61 316.29 L125.95 316.15 L126.28 316.01 L126.62 315.88 L126.95 315.74 L127.29 315.60 L127.62 315.47 L127.96 315.33 L128.29 315.20 L128.63 315.06 L128.96 314.93 L129.30 314.80 L129.63 314.67 L129.97 314.55 L130.30 314.42 L130.64 314.29 L130.97 314.17 L131.31 314.04 L131.64 313.92 L131.98 313.79 L132.31 313.67 L132.65 313.55 L132.98 313.43 L133.32 313.32 L133.65 313.20 L133.99 313.09 L134.32 312.98 L134.66 312.87 L134.99 312.77 L135.33 312.66 L135.67 312.56 L136.00 312.46 L136.34 312.36 L136.67 312.26 L137.01 312.16 L137.34 312.06 L137.68 311.96 L138.01 311.87 L138.35 311.77 L138.68 311.68 L139.02 311.58 L139.35 311.49 L139.69 311.40 L140.02 311.31 L140.36 311.22 L140.69 311.13 L141.03 311.04 L141.36 310.95 L141.70 310.86 L142.03 310.78 L142.37 310.69 L142.70 310.61 L143.04 310.52 L143.37 310.44 L143.71 310.35 L144.04 310.27 L144.38 310.19 L144.72 310.10 L145.05 310.02 L145.39 309.94 L145.72 309.86 L146.06 309.78 L146.39 309.70 L146.73 309.62 L147.06 309.54 L147.40 309.46 L147.73 309.39 L148.07 309.31 L148.40 309.23 L148.74 309.16 L149.07 309.08 L149.41 309.01 L149.74 308.93 L150.08 308.86 L150.41 308.79 L150.75 308.71 L151.08 308.64 L151.42 308.57 L151.75 308.50 L152.09 308.43 L152.42 308.36 L152.76 308.29 L153.09 308.23 L153.43 308.16 L153.76 308.09 L154.10 308.03" fill="none" stroke="#8a7ce4" stroke-width="1.10" stroke-linejoin="round"/>
<path d="M154.20 308.03 L154.20 352.30 L156.00 352.30" fill="none" stroke="#b0a8f2" stroke-width="1.20" stroke-linejoin="round"/>
<path d="M156.00 352.30 L157.22 345.50 L158.45 342.70 L159.67 340.59 L160.89 338.94 L162.12 337.53 L163.34 336.30 L164.57 335.25 L165.79 334.32 L167.01 333.49 L168.24 332.74 L169.46 332.05 L170.68 331.41 L171.91 330.79 L173.13 330.19 L174.35 329.58 L175.58 328.97 L176.80 328.36 L178.03 327.76 L179.25 327.17 L180.47 326.61 L181.70 326.07 L182.92 325.56 L184.14 325.08 L185.37 324.64 L186.59 324.22 L187.81 323.81 L189.04 323.42 L190.26 323.05 L191.48 322.68 L192.71 322.33 L193.93 322.00 L195.16 321.67 L196.38 321.35 L197.60 321.03 L198.83 320.72 L200.05 320.42 L201.27 320.12 L202.50 319.82 L203.72 319.53 L204.94 319.23 L206.17 318.94 L207.39 318.64 L208.62 318.35 L209.84 318.06 L211.06 317.78 L212.29 317.49 L213.51 317.21 L214.73 316.93 L215.96 316.65 L217.18 316.38 L218.40 316.10 L219.63 315.83 L220.85 315.56 L222.08 315.30 L223.30 315.04 L224.52 314.78 L225.75 314.52 L226.97 314.27 L228.19 314.02 L229.42 313.78 L230.64 313.53 L231.86 313.29 L233.09 313.06 L234.31 312.83 L235.54 312.60 L236.76 312.38 L237.98 312.16 L239.21 311.94 L240.43 311.73 L241.65 311.52 L242.88 311.32 L244.10 311.12 L245.32 310.93 L246.55 310.74 L247.77 310.56 L248.99 310.38 L250.22 310.20 L251.44 310.04 L252.67 309.87 L253.89 309.71 L255.11 309.55 L256.34 309.40 L257.56 309.25 L258.78 309.10 L260.01 308.95 L261.23 308.80 L262.45 308.66 L263.68 308.52 L264.90 308.38 L266.13 308.24 L267.35 308.11 L268.57 307.98 L269.80 307.85 L271.02 307.72 L272.24 307.59 L273.47 307.47 L274.69 307.35 L275.91 307.23 L277.14 307.11 L278.36 306.99 L279.59 306.88 L280.81 306.76 L282.03 306.65 L283.26 306.54 L284.48 306.43 L285.70 306.32 L286.93 306.22 L288.15 306.11 L289.37 306.01 L290.60 305.91 L291.82 305.80 L293.05 305.70 L294.27 305.61 L295.49 305.51 L296.72 305.41 L297.94 305.31 L299.16 305.22 L300.39 305.12 L301.61 305.03 L302.83 304.94 L304.06 304.85 L305.28 304.76 L306.51 304.67 L307.73 304.58 L308.95 304.49 L310.18 304.41 L311.40 304.32 L312.62 304.24 L313.85 304.16 L315.07 304.08 L316.29 304.00 L317.52 303.92 L318.74 303.84 L319.96 303.76 L321.19 303.68 L322.41 303.61 L323.64 303.53 L324.86 303.46 L326.08 303.38 L327.31 303.31 L328.53 303.23 L329.75 303.16 L330.98 303.09 L332.20 303.02 L333.42 302.95 L334.65 302.88 L335.87 302.81 L337.10 302.74 L338.32 302.67 L339.54 302.60 L340.77 302.53 L341.99 302.46 L343.21 302.39 L344.44 302.33 L345.66 302.26 L346.88 302.19 L348.11 302.12 L349.33 302.06 L350.56 301.99 L351.78 301.92 L353.00 301.86 L354.23 301.79 L355.45 301.72 L356.67 301.66 L357.90 301.59 L359.12 301.53 L360.34 301.46 L361.57 301.40 L362.79 301.34 L364.02 301.27 L365.24 301.21 L366.46 301.15 L367.69 301.08 L368.91 301.02 L370.13 300.96 L371.36 300.90 L372.58 300.84 L373.80 300.78 L375.03 300.72 L376.25 300.66 L377.47 300.60 L378.70 300.54 L379.92 300.48 L381.15 300.42 L382.37 300.36 L383.59 300.31 L384.82 300.25 L386.04 300.19 L387.26 300.14 L388.49 300.08 L389.71 300.03 L390.93 299.97 L392.16 299.92 L393.38 299.87 L394.61 299.81 L395.83 299.76 L397.05 299.71 L398.28 299.65 L399.50 299.60" fill="none" stroke="#8a7ce4" stroke-width="1.10" stroke-linejoin="round"/>
<path d="M154.20 351.32 L156.00 351.32" fill="none" stroke="#2020ff" stroke-width="2.00" stroke-linejoin="round"/>
<text x="52.05" y="291.10" text-anchor="middle" font-size="8.2">1</text>
<text x="52.1" y="352.50" text-anchor="middle" font-size="8.2">0</text>
<text x="55.25" y="322.10" text-anchor="end" font-size="8.2" textLength="9.4" lengthAdjust="spacingAndGlyphs">0.5</text>
<text x="6.3" y="296.90" font-size="8.2">e)</text>
<text transform="translate(22.6 319.40) rotate(-90)" text-anchor="middle" font-size="8.6" textLength="30.4" lengthAdjust="spacingAndGlyphs">Dynamic</text>
<text transform="translate(34.1 319.40) rotate(-90)" text-anchor="middle" font-size="8.6" textLength="41.6" lengthAdjust="spacingAndGlyphs">resilience [-]</text>
<line x1="96.10" y1="356.50" x2="96.10" y2="423.10" stroke="#e7e7e7" stroke-width="1"/>
<line x1="135.20" y1="356.50" x2="135.20" y2="423.10" stroke="#e7e7e7" stroke-width="1"/>
<line x1="174.29" y1="356.50" x2="174.29" y2="423.10" stroke="#e7e7e7" stroke-width="1"/>
<line x1="213.39" y1="356.50" x2="213.39" y2="423.10" stroke="#e7e7e7" stroke-width="1"/>
<line x1="252.49" y1="356.50" x2="252.49" y2="423.10" stroke="#e7e7e7" stroke-width="1"/>
<line x1="291.59" y1="356.50" x2="291.59" y2="423.10" stroke="#e7e7e7" stroke-width="1"/>
<line x1="330.69" y1="356.50" x2="330.69" y2="423.10" stroke="#e7e7e7" stroke-width="1"/>
<line x1="369.79" y1="356.50" x2="369.79" y2="423.10" stroke="#e7e7e7" stroke-width="1"/>
<line x1="56.40" y1="389.80" x2="399.50" y2="389.80" stroke="#e7e7e7" stroke-width="1"/>
<path d="M56.40 356.50 L399.50 356.50 L399.50 423.10 L56.40 423.10 Z" fill="none" stroke="#6a6a6a" stroke-width="1.15"/>
<path d="M57.00 356.50 L84.80 356.50" fill="none" stroke="#8a84e4" stroke-width="1.10" stroke-linejoin="round"/>
<path d="M84.80 383.14 L84.80 423.10" fill="none" stroke="#aaa2f0" stroke-width="1.20" stroke-linejoin="round"/>
<path d="M84.80 356.50 L84.80 383.14" fill="none" stroke="#6c5cc8" stroke-width="1.20" stroke-linejoin="round"/>
<path d="M85.00 423.10 L86.05 420.61 L87.10 418.34 L88.16 416.26 L89.21 414.32 L90.26 412.52 L91.31 410.83 L92.36 409.25 L93.41 407.77 L94.47 406.37 L95.52 405.05 L96.57 403.80 L97.62 402.62 L98.67 401.50 L99.73 400.44 L100.78 399.42 L101.83 398.46 L102.88 397.54 L103.93 396.67 L104.98 395.83 L106.04 395.03 L107.09 394.26 L108.14 393.52 L109.19 392.82 L110.24 392.14 L111.30 391.49 L112.35 390.86 L113.40 390.26 L114.45 389.68 L115.50 389.12 L116.56 388.58 L117.61 388.06 L118.66 387.55 L119.71 387.07 L120.76 386.60 L121.81 386.14 L122.87 385.70 L123.92 385.28 L124.97 384.86 L126.02 384.46 L127.07 384.07 L128.13 383.70 L129.18 383.33 L130.23 382.97 L131.28 382.63 L132.33 382.29 L133.38 381.96 L134.44 381.65 L135.49 381.34 L136.54 381.03 L137.59 380.74 L138.64 380.45 L139.70 380.18 L140.75 379.90 L141.80 379.64 L142.85 379.38 L143.90 379.13 L144.95 378.88 L146.01 378.64 L147.06 378.41 L148.11 378.18 L149.16 377.95 L150.21 377.73 L151.27 377.52 L152.32 377.31 L153.37 377.10 L154.42 376.90 L155.47 376.70 L156.53 376.51 L157.58 376.32 L158.63 376.14 L159.68 375.96 L160.73 375.78 L161.78 375.61 L162.84 375.44 L163.89 375.27 L164.94 375.11 L165.99 374.95 L167.04 374.79 L168.10 374.63 L169.15 374.48 L170.20 374.33 L171.25 374.19 L172.30 374.04 L173.35 373.90 L174.41 373.76 L175.46 373.63 L176.51 373.49 L177.56 373.36 L178.61 373.23 L179.67 373.11 L180.72 372.98 L181.77 372.86 L182.82 372.74 L183.87 372.62 L184.92 372.50 L185.98 372.39 L187.03 372.28 L188.08 372.17 L189.13 372.06 L190.18 371.95 L191.24 371.84 L192.29 371.74 L193.34 371.63 L194.39 371.53 L195.44 371.43 L196.49 371.34 L197.55 371.24 L198.60 371.14 L199.65 371.05 L200.70 370.96 L201.75 370.87 L202.81 370.78 L203.86 370.69 L204.91 370.60 L205.96 370.51 L207.01 370.43 L208.07 370.35 L209.12 370.26 L210.17 370.18 L211.22 370.10 L212.27 370.02 L213.32 369.94 L214.38 369.87 L215.43 369.79 L216.48 369.71 L217.53 369.64 L218.58 369.57 L219.64 369.49 L220.69 369.42 L221.74 369.35 L222.79 369.28 L223.84 369.21 L224.89 369.15 L225.95 369.08 L227.00 369.01 L228.05 368.95 L229.10 368.88 L230.15 368.82 L231.21 368.76 L232.26 368.69 L233.31 368.63 L234.36 368.57 L235.41 368.51 L236.46 368.45 L237.52 368.39 L238.57 368.33 L239.62 368.28 L240.67 368.22 L241.72 368.16 L242.78 368.11 L243.83 368.05 L244.88 368.00 L245.93 367.94 L246.98 367.89 L248.04 367.84 L249.09 367.79 L250.14 367.74 L251.19 367.68 L252.24 367.63 L253.29 367.58 L254.35 367.54 L255.40 367.49 L256.45 367.44 L257.50 367.39 L258.55 367.34 L259.61 367.30 L260.66 367.25 L261.71 367.20 L262.76 367.16 L263.81 367.11 L264.86 367.07 L265.92 367.03 L266.97 366.98 L268.02 366.94 L269.07 366.90 L270.12 366.85 L271.18 366.81 L272.23 366.77 L273.28 366.73 L274.33 366.69 L275.38 366.65 L276.43 366.61 L277.49 366.57 L278.54 366.53 L279.59 366.49 L280.64 366.45 L281.69 366.42 L282.75 366.38 L283.80 366.34 L284.85 366.30 L285.90 366.27 L286.95 366.23 L288.01 366.19 L289.06 366.16 L290.11 366.12 L291.16 366.09 L292.21 366.05 L293.26 366.02 L294.32 365.98 L295.37 365.95 L296.42 365.92 L297.47 365.88 L298.52 365.85 L299.58 365.82 L300.63 365.79 L301.68 365.75 L302.73 365.72 L303.78 365.69 L304.83 365.66 L305.89 365.63 L306.94 365.60 L307.99 365.57 L309.04 365.54 L310.09 365.51 L311.15 365.48 L312.20 365.45 L313.25 365.42 L314.30 365.39 L315.35 365.36 L316.40 365.33 L317.46 365.30 L318.51 365.27 L319.56 365.25 L320.61 365.22 L321.66 365.19 L322.72 365.16 L323.77 365.14 L324.82 365.11 L325.87 365.08 L326.92 365.06 L327.97 365.03 L329.03 365.00 L330.08 364.98 L331.13 364.95 L332.18 364.93 L333.23 364.90 L334.29 364.88 L335.34 364.85 L336.39 364.83 L337.44 364.80 L338.49 364.78 L339.55 364.75 L340.60 364.73 L341.65 364.71 L342.70 364.68 L343.75 364.66 L344.80 364.64 L345.86 364.61 L346.91 364.59 L347.96 364.57 L349.01 364.54 L350.06 364.52 L351.12 364.50 L352.17 364.48 L353.22 364.46 L354.27 364.43 L355.32 364.41 L356.37 364.39 L357.43 364.37 L358.48 364.35 L359.53 364.33 L360.58 364.31 L361.63 364.28 L362.69 364.26 L363.74 364.24 L364.79 364.22 L365.84 364.20 L366.89 364.18 L367.94 364.16 L369.00 364.14 L370.05 364.12 L371.10 364.10 L372.15 364.08 L373.20 364.06 L374.26 364.05 L375.31 364.03 L376.36 364.01 L377.41 363.99 L378.46 363.97 L379.52 363.95 L380.57 363.93 L381.62 363.91 L382.67 363.90 L383.72 363.88 L384.77 363.86 L385.83 363.84 L386.88 363.82 L387.93 363.81 L388.98 363.79 L390.03 363.77 L391.09 363.75 L392.14 363.74 L393.19 363.72 L394.24 363.70 L395.29 363.69 L396.34 363.67 L397.40 363.65 L398.45 363.64 L399.50 363.62" fill="none" stroke="#a08686" stroke-width="1.10" stroke-linejoin="round"/>
<path d="M85.00 423.10 L85.42 422.51 L85.84 421.97 L86.25 421.46 L86.67 420.96 L87.09 420.49 L87.51 420.02 L87.93 419.57 L88.34 419.14 L88.76 418.71 L89.18 418.30 L89.60 417.89 L90.02 417.50 L90.43 417.11 L90.85 416.74 L91.27 416.37 L91.69 416.00 L92.11 415.65 L92.52 415.30 L92.94 414.96 L93.36 414.63 L93.78 414.30 L94.19 413.98 L94.61 413.67 L95.03 413.36 L95.45 413.06 L95.87 412.76 L96.28 412.47 L96.70 412.18 L97.12 411.90 L97.54 411.62 L97.96 411.35 L98.37 411.08 L98.79 410.82 L99.21 410.56 L99.63 410.31 L100.05 410.06 L100.46 409.81 L100.88 409.57 L101.30 409.33 L101.30 409.31 L102.30 407.74 L103.29 406.47 L104.29 405.32 L105.29 404.26 L106.29 403.27 L107.28 402.34 L108.28 401.47 L109.28 400.63 L110.28 399.84 L111.27 399.08 L112.27 398.35 L113.27 397.65 L114.27 396.98 L115.26 396.34 L116.26 395.72 L117.26 395.12 L118.25 394.54 L119.25 393.99 L120.25 393.45 L121.25 392.93 L122.24 392.42 L123.24 391.93 L124.24 391.45 L125.24 390.99 L126.23 390.54 L127.23 390.11 L128.23 389.68 L129.23 389.27 L130.22 388.87 L131.22 388.48 L132.22 388.10 L133.21 387.73 L134.21 387.36 L135.21 387.01 L136.21 386.66 L137.20 386.33 L138.20 386.00 L139.20 385.68 L140.20 385.36 L141.19 385.06 L142.19 384.75 L143.19 384.46 L144.18 384.17 L145.18 383.89 L146.18 383.61 L147.18 383.34 L148.17 383.08 L149.17 382.82 L150.17 382.57 L151.17 382.32 L152.16 382.07 L153.16 381.83 L154.16 381.60 L155.16 381.37 L156.15 381.14 L157.15 380.92 L158.15 380.70 L159.14 380.48 L160.14 380.27 L161.14 380.06 L162.14 379.86 L163.13 379.66 L164.13 379.46 L165.13 379.27 L166.13 379.08 L167.12 378.89 L168.12 378.71 L169.12 378.53 L170.12 378.35 L171.11 378.17 L172.11 378.00 L173.11 377.83 L174.10 377.66 L175.10 377.50 L176.10 377.34 L177.10 377.18 L178.09 377.02 L179.09 376.86 L180.09 376.71 L181.09 376.56 L182.08 376.41 L183.08 376.27 L184.08 376.12 L185.08 375.98 L186.07 375.84 L187.07 375.70 L188.07 375.56 L189.06 375.43 L190.06 375.30 L191.06 375.17 L192.06 375.04 L193.05 374.91 L194.05 374.78 L195.05 374.66 L196.05 374.54 L197.04 374.41 L198.04 374.29 L199.04 374.18 L200.04 374.06 L201.03 373.94 L202.03 373.83 L203.03 373.72 L204.02 373.61 L205.02 373.50 L206.02 373.39 L207.02 373.28 L208.01 373.18 L209.01 373.07 L210.01 372.97 L211.01 372.87 L212.00 372.77 L213.00 372.67 L214.00 372.57 L214.99 372.47 L215.99 372.37 L216.99 372.28 L217.99 372.18 L218.98 372.09 L219.98 372.00 L220.98 371.91 L221.98 371.82 L222.97 371.73 L223.97 371.64 L224.97 371.55 L225.97 371.47 L226.96 371.38 L227.96 371.30 L228.96 371.21 L229.95 371.13 L230.95 371.05 L231.95 370.97 L232.95 370.89 L233.94 370.81 L234.94 370.73 L235.94 370.65 L236.94 370.57 L237.93 370.50 L238.93 370.42 L239.93 370.34 L240.93 370.27 L241.92 370.20 L242.92 370.12 L243.92 370.05 L244.91 369.98 L245.91 369.91 L246.91 369.84 L247.91 369.77 L248.90 369.70 L249.90 369.63 L250.90 369.57 L251.90 369.50 L252.89 369.43 L253.89 369.37 L254.89 369.30 L255.89 369.24 L256.88 369.17 L257.88 369.11 L258.88 369.05 L259.87 368.99 L260.87 368.92 L261.87 368.86 L262.87 368.80 L263.86 368.74 L264.86 368.68 L265.86 368.62 L266.86 368.56 L267.85 368.51 L268.85 368.45 L269.85 368.39 L270.85 368.34 L271.84 368.28 L272.84 368.22 L273.84 368.17 L274.83 368.11 L275.83 368.06 L276.83 368.01 L277.83 367.95 L278.82 367.90 L279.82 367.85 L280.82 367.79 L281.82 367.74 L282.81 367.69 L283.81 367.64 L284.81 367.59 L285.81 367.54 L286.80 367.49 L287.80 367.44 L288.80 367.39 L289.79 367.34 L290.79 367.29 L291.79 367.25 L292.79 367.20 L293.78 367.15 L294.78 367.11 L295.78 367.06 L296.78 367.01 L297.77 366.97 L298.77 366.92 L299.77 366.88 L300.76 366.83 L301.76 366.79 L302.76 366.74 L303.76 366.70 L304.75 366.66 L305.75 366.61 L306.75 366.57 L307.75 366.53 L308.74 366.49 L309.74 366.44 L310.74 366.40 L311.74 366.36 L312.73 366.32 L313.73 366.28 L314.73 366.24 L315.72 366.20 L316.72 366.16 L317.72 366.12 L318.72 366.08 L319.71 366.04 L320.71 366.00 L321.71 365.96 L322.71 365.92 L323.70 365.89 L324.70 365.85 L325.70 365.81 L326.70 365.77 L327.69 365.74 L328.69 365.70 L329.69 365.66 L330.68 365.63 L331.68 365.59 L332.68 365.55 L333.68 365.52 L334.67 365.48 L335.67 365.45 L336.67 365.41 L337.67 365.38 L338.66 365.34 L339.66 365.31 L340.66 365.28 L341.66 365.24 L342.65 365.21 L343.65 365.18 L344.65 365.14 L345.64 365.11 L346.64 365.08 L347.64 365.04 L348.64 365.01 L349.63 364.98 L350.63 364.95 L351.63 364.92 L352.63 364.88 L353.62 364.85 L354.62 364.82 L355.62 364.79 L356.62 364.76 L357.61 364.73 L358.61 364.70 L359.61 364.67 L360.60 364.64 L361.60 364.61 L362.60 364.58 L363.60 364.55 L364.59 364.52 L365.59 364.49 L366.59 364.46 L367.59 364.43 L368.58 364.40 L369.58 364.37 L370.58 364.35 L371.57 364.32 L372.57 364.29 L373.57 364.26 L374.57 364.23 L375.56 364.21 L376.56 364.18 L377.56 364.15 L378.56 364.12 L379.55 364.10 L380.55 364.07 L381.55 364.04 L382.55 364.02 L383.54 363.99 L384.54 363.96 L385.54 363.94 L386.53 363.91 L387.53 363.89 L388.53 363.86 L389.53 363.83 L390.52 363.81 L391.52 363.78 L392.52 363.76 L393.52 363.73 L394.51 363.71 L395.51 363.68 L396.51 363.66 L397.51 363.64 L398.50 363.61 L399.50 363.59" fill="none" stroke="#8a7ce4" stroke-width="1.10" stroke-linejoin="round"/>
<text x="52.05" y="360.60" text-anchor="middle" font-size="8.2">1</text>
<text x="52.1" y="422.20" text-anchor="middle" font-size="8.2">0</text>
<text x="55.25" y="392.30" text-anchor="end" font-size="8.2" textLength="9.4" lengthAdjust="spacingAndGlyphs">0.5</text>
<text x="6.3" y="365.30" font-size="8.2">f)</text>
<text transform="translate(22.6 389.40) rotate(-90)" text-anchor="middle" font-size="8.6" textLength="30.4" lengthAdjust="spacingAndGlyphs">Dynamic</text>
<text transform="translate(34.1 389.40) rotate(-90)" text-anchor="middle" font-size="8.6" textLength="41.6" lengthAdjust="spacingAndGlyphs">resilience [-]</text>
<line x1="96.10" y1="426.00" x2="96.10" y2="492.40" stroke="#e7e7e7" stroke-width="1"/>
<line x1="135.20" y1="426.00" x2="135.20" y2="492.40" stroke="#e7e7e7" stroke-width="1"/>
<line x1="174.29" y1="426.00" x2="174.29" y2="492.40" stroke="#e7e7e7" stroke-width="1"/>
<line x1="213.39" y1="426.00" x2="213.39" y2="492.40" stroke="#e7e7e7" stroke-width="1"/>
<line x1="252.49" y1="426.00" x2="252.49" y2="492.40" stroke="#e7e7e7" stroke-width="1"/>
<line x1="291.59" y1="426.00" x2="291.59" y2="492.40" stroke="#e7e7e7" stroke-width="1"/>
<line x1="330.69" y1="426.00" x2="330.69" y2="492.40" stroke="#e7e7e7" stroke-width="1"/>
<line x1="369.79" y1="426.00" x2="369.79" y2="492.40" stroke="#e7e7e7" stroke-width="1"/>
<line x1="56.70" y1="459.20" x2="399.50" y2="459.20" stroke="#e7e7e7" stroke-width="1"/>
<path d="M56.70 426.00 L399.50 426.00 L399.50 492.40 L56.70 492.40 Z" fill="none" stroke="#6a6a6a" stroke-width="1.15"/>
<path d="M57.00 426.00 L85.00 426.00" fill="none" stroke="#8a84e6" stroke-width="1.10" stroke-linejoin="round"/>
<path d="M85.00 451.23 L85.00 492.40" fill="none" stroke="#a898ee" stroke-width="1.05" stroke-linejoin="round"/>
<path d="M85.00 492.40 L87.30 492.40" fill="none" stroke="#5a3ab0" stroke-width="1.20" stroke-linejoin="round"/>
<path d="M85.00 426.00 L85.00 451.23" fill="none" stroke="#8262c4" stroke-width="1.10" stroke-linejoin="round"/>
<path d="M87.30 492.41 L88.34 483.57 L89.39 480.02 L90.43 477.35 L91.48 475.14 L92.52 473.23 L93.56 471.54 L94.61 470.01 L95.65 468.61 L96.70 467.33 L97.74 466.13 L98.79 465.02 L99.83 463.97 L100.87 462.99 L101.92 462.07 L102.96 461.19 L104.01 460.36 L105.05 459.57 L106.09 458.82 L107.14 458.10 L108.18 457.41 L109.23 456.75 L110.27 456.12 L111.32 455.51 L112.36 454.93 L113.40 454.37 L114.45 453.83 L115.49 453.31 L116.54 452.80 L117.58 452.32 L118.62 451.85 L119.67 451.39 L120.71 450.95 L121.76 450.53 L122.80 450.11 L123.85 449.71 L124.89 449.33 L125.93 448.95 L126.98 448.59 L128.02 448.23 L129.07 447.89 L130.11 447.55 L131.15 447.23 L132.20 446.91 L133.24 446.60 L134.29 446.30 L135.33 446.01 L136.37 445.73 L137.42 445.45 L138.46 445.18 L139.51 444.92 L140.55 444.66 L141.60 444.41 L142.64 444.16 L143.68 443.93 L144.73 443.69 L145.77 443.47 L146.82 443.24 L147.86 443.03 L148.90 442.81 L149.95 442.61 L150.99 442.41 L152.04 442.21 L153.08 442.01 L154.13 441.83 L155.17 441.64 L156.21 441.46 L157.26 441.28 L158.30 441.11 L159.35 440.94 L160.39 440.78 L161.43 440.61 L162.48 440.45 L163.52 440.30 L164.57 440.15 L165.61 440.00 L166.66 439.85 L167.70 439.71 L168.74 439.57 L169.79 439.43 L170.83 439.30 L171.88 439.16 L172.92 439.03 L173.96 438.91 L175.01 438.78 L176.05 438.66 L177.10 438.54 L178.14 438.42 L179.18 438.31 L180.23 438.20 L181.27 438.08 L182.32 437.98 L183.36 437.87 L184.41 437.76 L185.45 437.66 L186.49 437.56 L187.54 437.46 L188.58 437.36 L189.63 437.27 L190.67 437.18 L191.71 437.08 L192.76 436.99 L193.80 436.90 L194.85 436.82 L195.89 436.73 L196.94 436.65 L197.98 436.57 L199.02 436.48 L200.07 436.40 L201.11 436.33 L202.16 436.25 L203.20 436.17 L204.24 436.10 L205.29 436.03 L206.33 435.95 L207.38 435.88 L208.42 435.81 L209.47 435.74 L210.51 435.68 L211.55 435.61 L212.60 435.55 L213.64 435.48 L214.69 435.42 L215.73 435.36 L216.77 435.30 L217.82 435.24 L218.86 435.18 L219.91 435.12 L220.95 435.06 L221.99 435.00 L223.04 434.95 L224.08 434.89 L225.13 434.84 L226.17 434.79 L227.22 434.73 L228.26 434.68 L229.30 434.63 L230.35 434.58 L231.39 434.53 L232.44 434.48 L233.48 434.44 L234.52 434.39 L235.57 434.34 L236.61 434.30 L237.66 434.25 L238.70 434.21 L239.75 434.16 L240.79 434.12 L241.83 434.07 L242.88 434.03 L243.92 433.99 L244.97 433.95 L246.01 433.91 L247.05 433.87 L248.10 433.83 L249.14 433.79 L250.19 433.75 L251.23 433.71 L252.28 433.67 L253.32 433.64 L254.36 433.60 L255.41 433.56 L256.45 433.53 L257.50 433.49 L258.54 433.46 L259.58 433.42 L260.63 433.39 L261.67 433.35 L262.72 433.32 L263.76 433.28 L264.81 433.25 L265.85 433.22 L266.89 433.18 L267.94 433.15 L268.98 433.12 L270.03 433.09 L271.07 433.06 L272.11 433.03 L273.16 433.00 L274.20 432.96 L275.25 432.93 L276.29 432.90 L277.33 432.87 L278.38 432.84 L279.42 432.81 L280.47 432.79 L281.51 432.76 L282.56 432.73 L283.60 432.70 L284.64 432.67 L285.69 432.64 L286.73 432.61 L287.78 432.59 L288.82 432.56 L289.86 432.53 L290.91 432.50 L291.95 432.48 L293.00 432.45 L294.04 432.42 L295.09 432.39 L296.13 432.37 L297.17 432.34 L298.22 432.31 L299.26 432.29 L300.31 432.26 L301.35 432.23 L302.39 432.21 L303.44 432.18 L304.48 432.16 L305.53 432.13 L306.57 432.10 L307.62 432.08 L308.66 432.05 L309.70 432.03 L310.75 432.00 L311.79 431.98 L312.84 431.95 L313.88 431.92 L314.92 431.90 L315.97 431.87 L317.01 431.85 L318.06 431.82 L319.10 431.80 L320.14 431.77 L321.19 431.75 L322.23 431.72 L323.28 431.69 L324.32 431.67 L325.37 431.64 L326.41 431.62 L327.45 431.59 L328.50 431.57 L329.54 431.54 L330.59 431.52 L331.63 431.49 L332.67 431.46 L333.72 431.44 L334.76 431.41 L335.81 431.39 L336.85 431.36 L337.90 431.33 L338.94 431.31 L339.98 431.28 L341.03 431.26 L342.07 431.23 L343.12 431.20 L344.16 431.18 L345.20 431.15 L346.25 431.12 L347.29 431.10 L348.34 431.07 L349.38 431.04 L350.43 431.02 L351.47 430.99 L352.51 430.96 L353.56 430.94 L354.60 430.91 L355.65 430.88 L356.69 430.85 L357.73 430.83 L358.78 430.80 L359.82 430.77 L360.87 430.74 L361.91 430.72 L362.95 430.69 L364.00 430.66 L365.04 430.63 L366.09 430.60 L367.13 430.57 L368.18 430.55 L369.22 430.52 L370.26 430.49 L371.31 430.46 L372.35 430.43 L373.40 430.40 L374.44 430.37 L375.48 430.34 L376.53 430.31 L377.57 430.28 L378.62 430.25 L379.66 430.22 L380.71 430.19 L381.75 430.16 L382.79 430.13 L383.84 430.10 L384.88 430.07 L385.93 430.03 L386.97 430.00 L388.01 429.97 L389.06 429.94 L390.10 429.91 L391.15 429.88 L392.19 429.84 L393.24 429.81 L394.28 429.78 L395.32 429.74 L396.37 429.71 L397.41 429.68 L398.46 429.64 L399.50 429.61" fill="none" stroke="#eb9da4" stroke-width="1.10" stroke-linejoin="round"/>
<path d="M87.30 492.40 L88.34 484.71 L89.39 481.71 L90.43 479.48 L91.48 477.65 L92.52 476.07 L93.56 474.67 L94.61 473.41 L95.65 472.26 L96.70 471.19 L97.74 470.20 L98.79 469.27 L99.83 468.39 L100.87 467.57 L101.92 466.78 L102.96 466.03 L104.01 465.32 L105.05 464.63 L106.09 463.98 L107.14 463.35 L108.18 462.74 L109.23 462.16 L110.27 461.59 L111.32 461.04 L112.36 460.52 L113.40 460.00 L114.45 459.51 L115.49 459.03 L116.54 458.56 L117.58 458.10 L118.62 457.66 L119.67 457.23 L120.71 456.81 L121.76 456.40 L122.80 456.00 L123.85 455.61 L124.89 455.23 L125.93 454.86 L126.98 454.49 L128.02 454.14 L129.07 453.79 L130.11 453.45 L131.15 453.12 L132.20 452.79 L133.24 452.47 L134.29 452.16 L135.33 451.86 L136.37 451.55 L137.42 451.26 L138.46 450.97 L139.51 450.69 L140.55 450.41 L141.60 450.14 L142.64 449.87 L143.68 449.60 L144.73 449.35 L145.77 449.09 L146.82 448.84 L147.86 448.60 L148.90 448.36 L149.95 448.12 L150.99 447.88 L152.04 447.66 L153.08 447.43 L154.13 447.21 L155.17 446.99 L156.21 446.77 L157.26 446.56 L158.30 446.35 L159.35 446.15 L160.39 445.95 L161.43 445.75 L162.48 445.55 L163.52 445.36 L164.57 445.17 L165.61 444.98 L166.66 444.80 L167.70 444.62 L168.74 444.44 L169.79 444.26 L170.83 444.09 L171.88 443.92 L172.92 443.75 L173.96 443.58 L175.01 443.42 L176.05 443.26 L177.10 443.10 L178.14 442.94 L179.18 442.78 L180.23 442.63 L181.27 442.48 L182.32 442.33 L183.36 442.18 L184.41 442.04 L185.45 441.90 L186.49 441.75 L187.54 441.62 L188.58 441.48 L189.63 441.34 L190.67 441.21 L191.71 441.08 L192.76 440.95 L193.80 440.82 L194.85 440.69 L195.89 440.57 L196.94 440.44 L197.98 440.32 L199.02 440.20 L200.07 440.08 L201.11 439.96 L202.16 439.85 L203.20 439.73 L204.24 439.62 L205.29 439.51 L206.33 439.40 L207.38 439.29 L208.42 439.18 L209.47 439.08 L210.51 438.97 L211.55 438.87 L212.60 438.77 L213.64 438.67 L214.69 438.57 L215.73 438.47 L216.77 438.37 L217.82 438.27 L218.86 438.18 L219.91 438.09 L220.95 437.99 L221.99 437.90 L223.04 437.81 L224.08 437.72 L225.13 437.64 L226.17 437.55 L227.22 437.46 L228.26 437.38 L229.30 437.29 L230.35 437.21 L231.39 437.13 L232.44 437.05 L233.48 436.97 L234.52 436.89 L235.57 436.81 L236.61 436.74 L237.66 436.66 L238.70 436.59 L239.75 436.51 L240.79 436.44 L241.83 436.37 L242.88 436.30 L243.92 436.23 L244.97 436.16 L246.01 436.09 L247.05 436.02 L248.10 435.95 L249.14 435.89 L250.19 435.82 L251.23 435.76 L252.28 435.69 L253.32 435.63 L254.36 435.57 L255.41 435.51 L256.45 435.44 L257.50 435.39 L258.54 435.33 L259.58 435.27 L260.63 435.21 L261.67 435.15 L262.72 435.10 L263.76 435.04 L264.81 434.99 L265.85 434.93 L266.89 434.88 L267.94 434.83 L268.98 434.77 L270.03 434.72 L271.07 434.67 L272.11 434.62 L273.16 434.57 L274.20 434.52 L275.25 434.47 L276.29 434.43 L277.33 434.38 L278.38 434.33 L279.42 434.29 L280.47 434.24 L281.51 434.20 L282.56 434.15 L283.60 434.11 L284.64 434.07 L285.69 434.03 L286.73 433.98 L287.78 433.94 L288.82 433.90 L289.86 433.86 L290.91 433.82 L291.95 433.78 L293.00 433.75 L294.04 433.71 L295.09 433.67 L296.13 433.63 L297.17 433.60 L298.22 433.56 L299.26 433.53 L300.31 433.49 L301.35 433.46 L302.39 433.42 L303.44 433.39 L304.48 433.36 L305.53 433.32 L306.57 433.29 L307.62 433.26 L308.66 433.23 L309.70 433.20 L310.75 433.17 L311.79 433.14 L312.84 433.11 L313.88 433.08 L314.92 433.05 L315.97 433.03 L317.01 433.00 L318.06 432.97 L319.10 432.94 L320.14 432.92 L321.19 432.89 L322.23 432.87 L323.28 432.84 L324.32 432.82 L325.37 432.79 L326.41 432.77 L327.45 432.75 L328.50 432.72 L329.54 432.70 L330.59 432.68 L331.63 432.66 L332.67 432.64 L333.72 432.61 L334.76 432.59 L335.81 432.57 L336.85 432.55 L337.90 432.53 L338.94 432.52 L339.98 432.50 L341.03 432.48 L342.07 432.46 L343.12 432.44 L344.16 432.42 L345.20 432.41 L346.25 432.39 L347.29 432.37 L348.34 432.36 L349.38 432.34 L350.43 432.33 L351.47 432.31 L352.51 432.30 L353.56 432.28 L354.60 432.27 L355.65 432.26 L356.69 432.24 L357.73 432.23 L358.78 432.22 L359.82 432.20 L360.87 432.19 L361.91 432.18 L362.95 432.17 L364.00 432.16 L365.04 432.15 L366.09 432.13 L367.13 432.12 L368.18 432.11 L369.22 432.10 L370.26 432.09 L371.31 432.08 L372.35 432.08 L373.40 432.07 L374.44 432.06 L375.48 432.05 L376.53 432.04 L377.57 432.03 L378.62 432.03 L379.66 432.02 L380.71 432.01 L381.75 432.01 L382.79 432.00 L383.84 431.99 L384.88 431.99 L385.93 431.98 L386.97 431.98 L388.01 431.97 L389.06 431.97 L390.10 431.96 L391.15 431.96 L392.19 431.95 L393.24 431.95 L394.28 431.95 L395.32 431.94 L396.37 431.94 L397.41 431.94 L398.46 431.93 L399.50 431.93" fill="none" stroke="#a9a9a9" stroke-width="1.10" stroke-linejoin="round"/>
<path d="M87.30 492.39 L87.75 488.41 L88.20 486.79 L88.65 485.57 L89.10 484.54 L89.54 483.64 L89.99 482.83 L90.44 482.09 L90.89 481.40 L91.34 480.76 L91.79 480.15 L92.24 479.58 L92.69 479.03 L93.14 478.51 L93.59 478.01 L94.03 477.53 L94.48 477.06 L94.93 476.61 L95.38 476.18 L95.83 475.75 L96.28 475.34 L96.73 474.94 L97.18 474.55 L97.63 474.17 L98.08 473.80 L98.52 473.43 L98.97 473.08 L99.42 472.73 L99.87 472.39 L100.32 472.05 L100.77 471.72 L101.22 471.40 L101.67 471.08 L102.12 470.77 L102.57 470.46 L103.01 470.16 L103.46 469.86 L103.91 469.57 L104.36 469.28 L104.81 468.99 L105.26 468.71 L105.71 468.43 L106.16 468.16 L106.61 467.89 L107.06 467.62 L107.50 467.36 L107.95 467.10 L108.40 466.84 L108.85 466.58 L109.30 466.33 L109.75 466.08 L110.20 465.83 L110.65 465.59 L111.10 465.35 L111.55 465.11 L111.99 464.87 L112.44 464.63 L112.89 464.40 L113.34 464.17 L113.79 463.94 L114.24 463.72 L114.69 463.49 L115.14 463.27 L115.59 463.05 L116.04 462.83 L116.48 462.61 L116.93 462.40 L117.38 462.18 L117.83 461.97 L118.28 461.76 L118.73 461.55 L119.18 461.34 L119.63 461.14 L120.08 460.93 L120.53 460.73 L120.97 460.53 L121.42 460.33 L121.87 460.13 L122.32 459.93 L122.77 459.73 L123.22 459.54 L123.67 459.34 L124.12 459.15 L124.57 458.96 L125.02 458.77 L125.46 458.58 L125.91 458.39 L126.36 458.20 L126.81 458.02 L127.26 457.83 L127.71 457.65 L128.16 457.47 L128.61 457.29 L129.06 457.10 L129.51 456.93 L129.95 456.75 L130.40 456.57 L130.85 456.39 L131.30 456.22 L131.75 456.04 L132.20 455.87 L132.65 455.69 L133.10 455.52 L133.55 455.35 L134.00 455.18 L134.44 455.01 L134.89 454.84 L135.34 454.67 L135.79 454.50 L136.24 454.33 L136.69 454.17 L137.14 454.00 L137.59 453.84 L138.04 453.67 L138.49 453.51 L138.93 453.35 L139.38 453.18 L139.83 453.02 L140.28 452.86 L140.73 452.70 L141.18 452.54 L141.63 452.38 L142.08 452.22 L142.53 452.07 L142.98 451.91 L143.42 451.75 L143.87 451.60 L144.32 451.44 L144.77 451.29 L145.22 451.13 L145.67 450.98 L146.12 450.83 L146.57 450.67 L147.02 450.52 L147.47 450.37 L147.91 450.22 L148.36 450.07 L148.81 449.92 L149.26 449.77 L149.71 449.62 L150.16 449.47 L150.61 449.32 L151.06 449.18 L151.51 449.03 L151.96 448.88 L152.40 448.74 L152.85 448.59 L153.30 448.45 L153.75 448.30 L154.20 448.16" fill="none" stroke="#8a7ce4" stroke-width="1.10" stroke-linejoin="round"/>
<path d="M154.20 448.38 L154.20 492.40" fill="none" stroke="#b0a8f2" stroke-width="1.20" stroke-linejoin="round"/>
<path d="M155.70 484.43 L156.52 478.14 L157.33 475.61 L158.15 473.75 L158.96 472.25 L159.78 470.97 L160.59 469.86 L161.41 468.86 L162.22 467.96 L163.04 467.14 L163.85 466.38 L164.67 465.68 L165.48 465.02 L166.30 464.40 L167.12 463.82 L167.93 463.27 L168.75 462.74 L169.56 462.25 L170.38 461.77 L171.19 461.32 L172.01 460.89 L172.82 460.47 L173.64 460.07 L174.45 459.68 L175.27 459.31 L176.08 458.95 L176.90 458.61 L177.72 458.27 L178.53 457.95 L179.35 457.63 L180.16 457.33 L180.98 457.03 L181.79 456.74 L182.61 456.46 L183.42 456.19 L184.24 455.93 L185.05 455.67 L185.87 455.42 L186.68 455.17 L187.50 454.93 L188.32 454.70 L189.13 454.47 L189.95 454.24 L190.76 454.02 L191.58 453.81 L192.39 453.60 L193.21 453.39 L194.02 453.19 L194.84 453.00 L195.65 452.80 L196.47 452.61 L197.28 452.43 L198.10 452.24 L198.92 452.06 L199.73 451.89 L200.55 451.71 L201.36 451.54 L202.18 451.38 L202.99 451.21 L203.81 451.05 L204.62 450.89 L205.44 450.74 L206.25 450.58 L207.07 450.43 L207.88 450.28 L208.70 450.14 L209.52 449.99 L210.33 449.85 L211.15 449.71 L211.96 449.57 L212.78 449.44 L213.59 449.30 L214.41 449.17 L215.22 449.04 L216.04 448.91 L216.85 448.79 L217.67 448.66 L218.48 448.54 L219.30 448.42 L220.12 448.30 L220.93 448.18 L221.75 448.06 L222.56 447.94 L223.38 447.83 L224.19 447.72 L225.01 447.61 L225.82 447.50 L226.64 447.39 L227.45 447.28 L228.27 447.17 L229.08 447.07 L229.90 446.96 L230.72 446.86 L231.53 446.76 L232.35 446.66 L233.16 446.56 L233.98 446.46 L234.79 446.37 L235.61 446.27 L236.42 446.18 L237.24 446.08 L238.05 445.99 L238.87 445.90 L239.68 445.81 L240.50 445.72 L241.32 445.63 L242.13 445.54 L242.95 445.45 L243.76 445.37 L244.58 445.28 L245.39 445.20 L246.21 445.11 L247.02 445.03 L247.84 444.95 L248.65 444.86 L249.47 444.78 L250.28 444.70 L251.10 444.62 L251.92 444.55 L252.73 444.47 L253.55 444.39 L254.36 444.31 L255.18 444.24 L255.99 444.16 L256.81 444.09 L257.62 444.02 L258.44 443.94 L259.25 443.87 L260.07 443.80 L260.88 443.73 L261.70 443.66 L262.52 443.59 L263.33 443.52 L264.15 443.45 L264.96 443.38 L265.78 443.31 L266.59 443.25 L267.41 443.18 L268.22 443.11 L269.04 443.05 L269.85 442.98 L270.67 442.92 L271.48 442.85 L272.30 442.79 L273.12 442.73 L273.93 442.66 L274.75 442.60 L275.56 442.54 L276.38 442.48 L277.19 442.42 L278.01 442.36 L278.82 442.30 L279.64 442.24 L280.45 442.18 L281.27 442.12 L282.08 442.06 L282.90 442.01 L283.72 441.95 L284.53 441.89 L285.35 441.84 L286.16 441.78 L286.98 441.73 L287.79 441.67 L288.61 441.62 L289.42 441.56 L290.24 441.51 L291.05 441.45 L291.87 441.40 L292.68 441.35 L293.50 441.29 L294.32 441.24 L295.13 441.19 L295.95 441.14 L296.76 441.09 L297.58 441.04 L298.39 440.99 L299.21 440.94 L300.02 440.89 L300.84 440.84 L301.65 440.79 L302.47 440.74 L303.28 440.69 L304.10 440.64 L304.92 440.59 L305.73 440.55 L306.55 440.50 L307.36 440.45 L308.18 440.40 L308.99 440.36 L309.81 440.31 L310.62 440.27 L311.44 440.22 L312.25 440.17 L313.07 440.13 L313.88 440.08 L314.70 440.04 L315.52 440.00 L316.33 439.95 L317.15 439.91 L317.96 439.86 L318.78 439.82 L319.59 439.78 L320.41 439.73 L321.22 439.69 L322.04 439.65 L322.85 439.61 L323.67 439.57 L324.48 439.52 L325.30 439.48 L326.12 439.44 L326.93 439.40 L327.75 439.36 L328.56 439.32 L329.38 439.28 L330.19 439.24 L331.01 439.20 L331.82 439.16 L332.64 439.12 L333.45 439.08 L334.27 439.04 L335.08 439.00 L335.90 438.97 L336.72 438.93 L337.53 438.89 L338.35 438.85 L339.16 438.81 L339.98 438.78 L340.79 438.74 L341.61 438.70 L342.42 438.66 L343.24 438.63 L344.05 438.59 L344.87 438.55 L345.68 438.52 L346.50 438.48 L347.32 438.45 L348.13 438.41 L348.95 438.38 L349.76 438.34 L350.58 438.30 L351.39 438.27 L352.21 438.23 L353.02 438.20 L353.84 438.17 L354.65 438.13 L355.47 438.10 L356.28 438.06 L357.10 438.03 L357.92 438.00 L358.73 437.96 L359.55 437.93 L360.36 437.90 L361.18 437.86 L361.99 437.83 L362.81 437.80 L363.62 437.77 L364.44 437.73 L365.25 437.70 L366.07 437.67 L366.88 437.64 L367.70 437.60 L368.52 437.57 L369.33 437.54 L370.15 437.51 L370.96 437.48 L371.78 437.45 L372.59 437.42 L373.41 437.39 L374.22 437.36 L375.04 437.33 L375.85 437.29 L376.67 437.26 L377.48 437.23 L378.30 437.20 L379.12 437.17 L379.93 437.14 L380.75 437.12 L381.56 437.09 L382.38 437.06 L383.19 437.03 L384.01 437.00 L384.82 436.97 L385.64 436.94 L386.45 436.91 L387.27 436.88 L388.08 436.85 L388.90 436.83 L389.72 436.80 L390.53 436.77 L391.35 436.74 L392.16 436.71 L392.98 436.69 L393.79 436.66 L394.61 436.63 L395.42 436.60 L396.24 436.58 L397.05 436.55 L397.87 436.52 L398.68 436.50 L399.50 436.47" fill="none" stroke="#8a7ce4" stroke-width="1.10" stroke-linejoin="round"/>
<path d="M155.10 492.40 L155.10 484.10" fill="none" stroke="#1010ff" stroke-width="1.90" stroke-linejoin="round"/>
<text x="52.05" y="430.30" text-anchor="middle" font-size="8.2">1</text>
<text x="52.1" y="491.70" text-anchor="middle" font-size="8.2">0</text>
<text x="55.25" y="460.70" text-anchor="end" font-size="8.2" textLength="9.4" lengthAdjust="spacingAndGlyphs">0.5</text>
<text x="6.3" y="435.40" font-size="8.2">g)</text>
<text transform="translate(22.6 457.20) rotate(-90)" text-anchor="middle" font-size="8.6" textLength="30.4" lengthAdjust="spacingAndGlyphs">Dynamic</text>
<text transform="translate(34.1 457.20) rotate(-90)" text-anchor="middle" font-size="8.6" textLength="41.6" lengthAdjust="spacingAndGlyphs">resilience [-]</text>
<text x="96.65" y="503.00" text-anchor="middle" font-size="7.9">10000</text>
<text x="136.05" y="503.30" text-anchor="middle" font-size="7.9">20000</text>
<text x="175.15" y="503.40" text-anchor="middle" font-size="7.9">30000</text>
<text x="214.05" y="504.40" text-anchor="middle" font-size="7.9">40000</text>
<text x="254.00" y="504.70" text-anchor="middle" font-size="7.9">50000</text>
<text x="292.30" y="504.80" text-anchor="middle" font-size="7.9">60000</text>
<text x="331.35" y="503.40" text-anchor="middle" font-size="7.9">70000</text>
<text x="371.05" y="504.00" text-anchor="middle" font-size="7.9">80000</text>
<text x="231.2" y="513.0" text-anchor="middle" font-size="8.2">Time (h)</text>
<line x1="82.9" y1="519.30" x2="102.4" y2="519.30" stroke="#1a1aff" stroke-width="1.35"/>
<text x="105.5" y="522.20" font-size="8.2">SC 5</text>
<line x1="82.9" y1="530.20" x2="102.4" y2="530.20" stroke="#ff2020" stroke-width="1.35"/>
<text x="105.5" y="533.10" font-size="8.2">SC 4</text>
<line x1="82.9" y1="541.40" x2="102.4" y2="541.40" stroke="#1f9a1f" stroke-width="1.35"/>
<text x="105.5" y="544.30" font-size="8.2">SC 3</text>
<line x1="242.4" y1="519.30" x2="261.9" y2="519.30" stroke="#8c8c8c" stroke-width="1.35"/>
<text x="265.0" y="522.20" font-size="8.2">SC 2</text>
<line x1="242.4" y1="530.20" x2="261.9" y2="530.20" stroke="#000000" stroke-width="1.35"/>
<text x="265.0" y="533.10" font-size="8.2">SC 1</text>
<line x1="242.4" y1="541.60" x2="261.9" y2="541.60" stroke="#b01e1e" stroke-width="1.35"/>
<text x="265.0" y="544.50" font-size="8.2">SC 0</text>
</svg>
</body></html>
